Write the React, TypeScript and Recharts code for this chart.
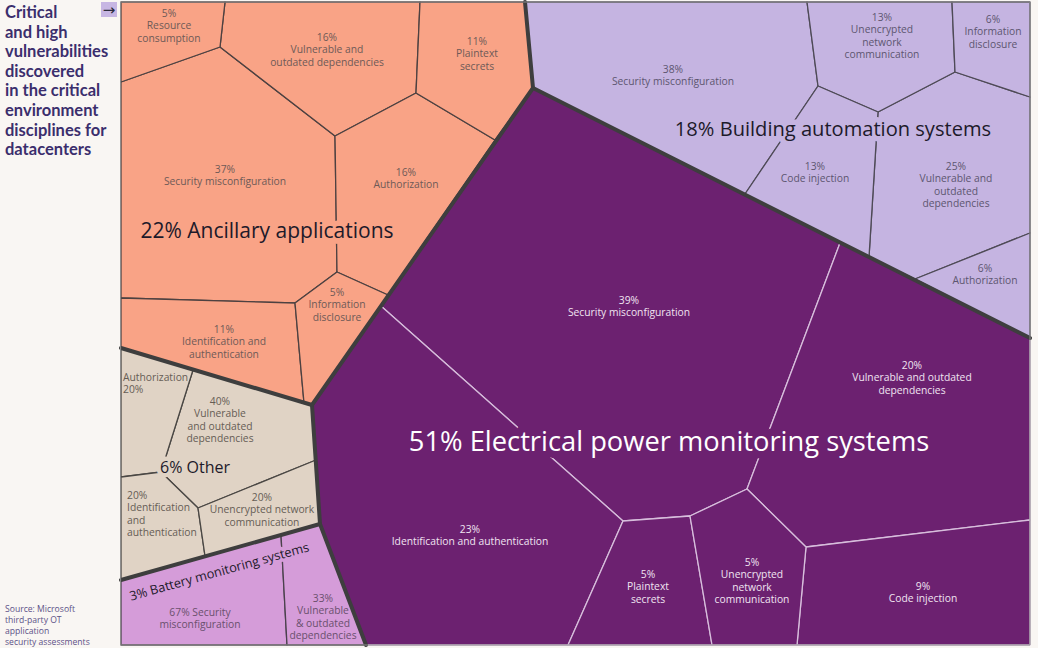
import React from "react";
import { ScatterChart, Scatter, XAxis, YAxis } from "recharts";

document.body.style.margin = "0";

// share of critical & high vulnerabilities per discipline
const groupNames = [
  "Electrical power monitoring systems",
  "Ancillary applications",
  "Building automation systems",
  "Other",
  "Battery monitoring systems",
];
const groupShares = [51, 22, 18, 6, 3];

// issue mix inside each discipline ("\n" = label line break)
const electricalIssues = [
  "Security misconfiguration",
  "Identification and authentication",
  "Vulnerable and outdated\ndependencies",
  "Code injection",
  "Plaintext\nsecrets",
  "Unencrypted\nnetwork\ncommunication",
];
const electricalShares = [39, 23, 20, 9, 5, 5];

const ancillaryIssues = [
  "Security misconfiguration",
  "Vulnerable and\noutdated dependencies",
  "Authorization",
  "Plaintext\nsecrets",
  "Identification and\nauthentication",
  "Resource\nconsumption",
  "Information\ndisclosure",
];
const ancillaryShares = [37, 16, 16, 11, 11, 5, 5];

const buildingIssues = [
  "Security misconfiguration",
  "Vulnerable and\noutdated\ndependencies",
  "Unencrypted\nnetwork\ncommunication",
  "Code injection",
  "Information\ndisclosure",
  "Authorization",
];
const buildingShares = [38, 25, 13, 13, 6, 6];

const otherIssues = [
  "Vulnerable\nand outdated\ndependencies",
  "Authorization",
  "Identification\nand\nauthentication",
  "Unencrypted network\ncommunication",
];
const otherShares = [40, 20, 20, 20];

const batteryIssues = ["Security\nmisconfiguration", "Vulnerable\n& outdated\ndependencies"];
const batteryShares = [67, 33];

type Pt = [number, number];
type At = [number, number, string?]; // x, y, mode: L = left aligned, LR = left + share last, I = share inline

// voronoi cell outlines (page px), same order as the issue arrays
const electricalCells: Pt[][] = [
  [[381, 306], [533, 88], [840, 243], [747, 489], [690, 516], [623, 521]],
  [[312, 405], [381, 306], [623, 521], [568, 645], [366, 645], [320, 524]],
  [[840, 243], [1030, 338], [1030, 520], [806, 547], [747, 489]],
  [[806, 547], [1030, 520], [1030, 645], [797, 645]],
  [[623, 521], [690, 516], [712, 645], [568, 645]],
  [[690, 516], [747, 489], [806, 547], [797, 645], [712, 645]],
];
const electricalAt: At[] = [[629, 300], [470, 529], [912, 365], [923, 586], [648, 574], [752, 562]];

const ancillaryCells: Pt[][] = [
  [[121, 82], [220, 47], [335, 136], [337, 272], [295, 303], [121, 298]],
  [[225, 2], [420, 2], [416, 93], [335, 136], [220, 47]],
  [[335, 136], [416, 93], [495, 140], [388, 295], [337, 272]],
  [[420, 2], [525, 2], [533, 88], [495, 140], [416, 93]],
  [[121, 298], [295, 303], [304, 403], [121, 348]],
  [[121, 2], [225, 2], [220, 47], [121, 82]],
  [[337, 272], [388, 295], [312, 405], [304, 403], [295, 303]],
];
const ancillaryAt: At[] = [[225, 169], [327, 37], [406, 172], [477, 41], [224, 329], [169, 13], [337, 292]];

const buildingCells: Pt[][] = [
  [[525, 2], [807, 2], [818, 86], [745, 194], [533, 88]],
  [[878, 112], [955, 72], [1030, 97], [1030, 233], [915, 279], [869, 257]],
  [[807, 2], [952, 2], [955, 72], [878, 112], [818, 86]],
  [[818, 86], [878, 112], [869, 257], [745, 194]],
  [[952, 2], [1030, 2], [1030, 97], [955, 72]],
  [[915, 279], [1030, 233], [1030, 338]],
];
const buildingAt: At[] = [[673, 69], [956, 166], [882, 17], [815, 166], [993, 19], [985, 268]];

const otherCells: Pt[][] = [
  [[193, 370], [312, 405], [316, 460], [198, 508], [161, 472]],
  [[121, 348], [193, 370], [161, 472], [121, 477]],
  [[121, 477], [161, 472], [198, 508], [205, 556], [121, 580]],
  [[198, 508], [316, 460], [320, 524], [205, 556]],
];
const otherAt: At[] = [[220, 401], [123, 377, "LR"], [127, 495, "L"], [262, 497]];

const batteryCells: Pt[][] = [
  [[121, 580], [281, 535], [287, 645], [121, 645]],
  [[281, 535], [320, 524], [366, 645], [287, 645]],
];
const batteryAt: At[] = [[200, 612, "I"], [323, 598]];

// thick borders between disciplines, and the outer frame
const borders: Pt[][] = [
  [[525, 2], [533, 88], [312, 405], [320, 524], [366, 645]],
  [[533, 88], [1030, 338]],
  [[121, 348], [312, 405]],
  [[121, 580], [320, 524]],
];
const frame: Pt[] = [[121, 2], [1030, 2], [1030, 645], [121, 645]];

// discipline title placement: x, y, font size, rotation
const groupAt: [number, number, number, number][] = [
  [669, 440, 27.3, 0],
  [267, 230, 21, 0],
  [833, 128, 20.1, 0],
  [195, 467, 16, 0],
  [219, 571, 12.8, -15.5],
];

const groups = [
  { names: electricalIssues, shares: electricalShares, cells: electricalCells, at: electricalAt, fill: "#6c2170", line: "#d7bedc", text: "#f0e4f1", title: "#ffffff" },
  { names: ancillaryIssues, shares: ancillaryShares, cells: ancillaryCells, at: ancillaryAt, fill: "#f9a386", line: "#4d4141", text: "#6e5a57", title: "#1d1a2a" },
  { names: buildingIssues, shares: buildingShares, cells: buildingCells, at: buildingAt, fill: "#c5b4e1", line: "#4e4a56", text: "#5d5670", title: "#1d1a2a" },
  { names: otherIssues, shares: otherShares, cells: otherCells, at: otherAt, fill: "#e0d3c5", line: "#4a4744", text: "#665d55", title: "#1d1a2a" },
  { names: batteryIssues, shares: batteryShares, cells: batteryCells, at: batteryAt, fill: "#d59cd9", line: "#4a414c", text: "#6a506d", title: "#1d1a2a" },
];

const FONT = "'Open Sans', 'Noto Sans', sans-serif";
const toPts = (poly: Pt[]) => poly.map(([x, y]) => ({ x, y }));
const NoDot = () => <g />;

function pathLine(fill: string, stroke: string, sw: number, close: boolean) {
  return (p: any) => {
    const pts = (p.points || []) as { x: number; y: number }[];
    const d = pts.map((q, i) => `${i ? "L" : "M"}${q.x},${q.y}`).join("") + (close ? "Z" : "");
    return <path d={d} fill={fill} stroke={stroke} strokeWidth={sw} strokeLinejoin="round" strokeLinecap="round" />;
  };
}

const cellLabels = groups.flatMap((g) =>
  g.names.map((name, i) => {
    const [x, y, mode] = g.at[i];
    const parts = name.split("\n");
    let lines: string[];
    if (mode === "LR") lines = [...parts, `${g.shares[i]}%`];
    else if (mode === "I") lines = [`${g.shares[i]}% ${parts[0]}`, ...parts.slice(1)];
    else lines = [`${g.shares[i]}%`, ...parts];
    return { x, y, lines, color: g.text, anchor: mode && mode.startsWith("L") ? "start" : "middle" };
  })
);

const groupLabels = groupNames.map((name, i) => ({
  x: groupAt[i][0],
  y: groupAt[i][1],
  size: groupAt[i][2],
  rot: groupAt[i][3],
  text: `${groupShares[i]}% ${name}`,
  color: groups[i].title,
  halo: groups[i].fill,
}));

function CellLabel(props: any) {
  const { cx, cy, payload } = props;
  return (
    <text fill={payload.color} fontSize={10.3} fontFamily={FONT} textAnchor={payload.anchor} dominantBaseline="central">
      {payload.lines.map((l: string, i: number) => (
        <tspan key={i} x={cx} y={cy + i * 12.4} dominantBaseline="central">
          {l}
        </tspan>
      ))}
    </text>
  );
}

function GroupLabel(props: any) {
  const { cx, cy, payload } = props;
  return (
    <text
      x={cx}
      y={cy}
      fill={payload.color}
      fontSize={payload.size}
      fontFamily={FONT}
      textAnchor="middle"
      dominantBaseline="central"
      stroke={payload.halo}
      strokeWidth={payload.size * 0.55}
      strokeLinejoin="round"
      paintOrder="stroke"
      transform={payload.rot ? `rotate(${payload.rot} ${cx} ${cy})` : undefined}
    >
      {payload.text}
    </text>
  );
}

const titleLines = ["Critical", "and high", "vulnerabilities", "discovered", "in the critical", "environment", "disciplines for", "datacenters"];
const sourceLines = ["Source: Microsoft", "third-party OT", "application", "security assessments"];

export default function App() {
  return (
    <div style={{ position: "relative", width: 1038, height: 648, background: "#f9f6f3", overflow: "hidden" }}>
      <ScatterChart width={1038} height={648} margin={{ top: 0, right: 0, bottom: 0, left: 0 }} style={{ position: "absolute", left: 0, top: 0 }}>
        <XAxis type="number" dataKey="x" domain={[0, 1038]} allowDataOverflow hide />
        <YAxis type="number" dataKey="y" domain={[0, 648]} allowDataOverflow reversed hide />
        {groups.flatMap((g, gi) =>
          g.cells.map((c, ci) => (
            <Scatter
              key={`c${gi}-${ci}`}
              data={toPts(c)}
              shape={NoDot}
              line={pathLine(g.fill, g.line, 1.3, true)}
              isAnimationActive={false}
            />
          ))
        )}
        <Scatter data={groupLabels} shape={GroupLabel} isAnimationActive={false} />
        {borders.map((b, i) => (
          <Scatter key={`b${i}`} data={toPts(b)} shape={NoDot} line={pathLine("none", "#3e3e3e", 4, false)} isAnimationActive={false} />
        ))}
        <Scatter data={toPts(frame)} shape={NoDot} line={pathLine("none", "#8e8e8e", 1, true)} isAnimationActive={false} />
        <Scatter data={cellLabels} shape={CellLabel} isAnimationActive={false} />
      </ScatterChart>
      <svg width={1038} height={648} style={{ position: "absolute", left: 0, top: 0, pointerEvents: "none" }}>
        <text fill="#3b2e6d" fontSize={16.5} fontWeight={700} fontFamily="Lato, 'Open Sans', sans-serif">
          {titleLines.map((l, i) => (
            <tspan key={i} x={5} y={18 + i * 19.6}>
              {l}
            </tspan>
          ))}
        </text>
        <rect x={101} y={2} width={16} height={15} fill="#c7b6e3" />
        <text x={109} y={14.5} fill="#2b2a3c" fontSize={15} textAnchor="middle" fontFamily="'DejaVu Sans', sans-serif">
          →
        </text>
        <text fill="#5c5288" fontSize={8.6} fontFamily={FONT}>
          {sourceLines.map((l, i) => (
            <tspan key={i} x={5} y={612 + i * 11}>
              {l}
            </tspan>
          ))}
        </text>
      </svg>
    </div>
  );
}
